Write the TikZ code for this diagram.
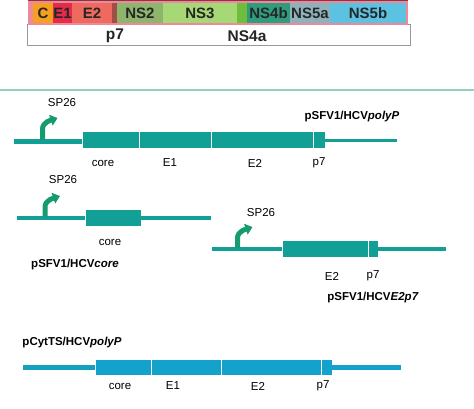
\documentclass[tikz,border=0pt]{standalone}
\usepackage{fontspec}
\setmainfont{Liberation Sans}
\usepackage{tikz}
\usetikzlibrary{positioning}
\usetikzlibrary{arrows.meta}

\definecolor{dnateal}{HTML}{12A096}
\definecolor{dnablue}{HTML}{13A2CC}
\definecolor{promgreen}{HTML}{169A70}
\definecolor{rulegreen}{HTML}{92D0C2}
\definecolor{barpink}{HTML}{EC8A9C}
\definecolor{barmaroon}{HTML}{8A3444}
\definecolor{segC}{HTML}{F5A01E}
\definecolor{segEone}{HTML}{E52B4A}
\definecolor{segEtwo}{HTML}{EF6A5E}
\definecolor{segPseven}{HTML}{A24E48}
\definecolor{segNStwo}{HTML}{8EB56C}
\definecolor{segNSthree}{HTML}{A6D876}
\definecolor{segNSfoura}{HTML}{6DBE3C}
\definecolor{segNSfourb}{HTML}{2F9C7C}
\definecolor{segNSfivea}{HTML}{8DB2BC}
\definecolor{segNSfiveb}{HTML}{5CC2E2}

\begin{document}
\begin{tikzpicture}[x=1pt,y=-1pt]
% Style definitions
\tikzset{
    seg/.style={minimum height=20pt, inner sep=0pt, outer sep=0pt, anchor=west,
                font=\fontsize{15}{17}\selectfont\bfseries, text=black!85},
    rowtext/.style={font=\fontsize{15.5}{17}\selectfont\bfseries, text=black!85},
    gene/.style={minimum height=17pt, inner sep=0pt, outer sep=0pt, anchor=west,
                 draw=white, line width=0.8pt},
    tag/.style={font=\fontsize{11.5}{13}\selectfont, inner sep=1pt},
    plasmid/.style={font=\fontsize{11.5}{13}\selectfont\bfseries, inner sep=1pt},
    promoter/.style={draw=promgreen, line width=5pt,
                     -{Triangle[width=11pt,length=7pt]}},
    rule/.style={draw=rulegreen, line width=1.5pt}
}
\useasboundingbox (0,0) rectangle (474,408);

% Polyprotein bar
\node[draw=black!40, fill=white, line width=1pt, minimum width=383pt,
      minimum height=21pt, inner sep=0pt, anchor=north west] (cut) at (27,24) {};
\node[fill=barpink, minimum width=380pt, minimum height=25pt, inner sep=0pt,
      outer sep=0pt, anchor=north west] (frame) at (28,0) {};
\draw[barmaroon, line width=1.2pt] (frame.north west) -- (frame.north east);

\node[seg, fill=segC, minimum width=20pt] (c) at (33,13) {C};
\node[seg, fill=segEone, minimum width=19pt] (e1) at (53,13) {E1};
\node[seg, fill=segEtwo, minimum width=40pt] (e2) at (72,13) {E2};
\node[seg, fill=segPseven, minimum width=5pt] (p7) at (112,13) {};
\node[seg, fill=segNStwo, minimum width=46pt] (ns2) at (117,13) {NS2};
\node[seg, fill=segNSthree, minimum width=74pt] (ns3) at (163,13) {NS3};
\node[seg, fill=segNSfoura, minimum width=10pt] (ns4a) at (237,13) {};
\node[seg, fill=segNSfourb, minimum width=43pt] (ns4b) at (247,13) {NS4b};
\node[seg, fill=segNSfivea, minimum width=40pt] (ns5a) at (290,13) {NS5a};
\node[seg, fill=segNSfiveb, minimum width=76pt] (ns5b) at (330,13) {NS5b};

\node[rowtext] (p7name) at (115,36) {p7};
\node[rowtext] (ns4aname) at (247,36) {NS4a};

% Separator
\coordinate (ruleL) at (0,90);
\coordinate (ruleR) at (474,90);
\draw[rule] (ruleL) -- (ruleR);

% pSFV1/HCVpolyP
\node[gene, fill=dnateal, minimum width=57pt] (core1) at (82,139.5) {};
\node[gene, fill=dnateal, minimum width=72pt] (eone1) at (139,139.5) {};
\node[gene, fill=dnateal, minimum width=102pt] (etwo1) at (211,139.5) {};
\node[gene, fill=dnateal, minimum width=12pt] (pseven1) at (313,139.5) {};
\coordinate (start1) at (14,141.5);
\coordinate (end1) at (397,140.5);
\draw[dnateal, line width=5pt] (start1) -- (start1 -| core1.west);
\draw[dnateal, line width=3.5pt] (pseven1.east |- end1) -- (end1);
\coordinate (prom1) at (42.5,140);
\draw[promoter] (prom1) -- ++(0,-11) .. controls +(0,-7) and +(-6,2) .. ++(15,-11);
\node[tag] (sp1) at (62,103) {SP26};
\node[tag] (corelbl1) at (103,163) {core};
\node[tag] (eonelbl1) at (170,163) {E1};
\node[tag] (etwolbl1) at (255,163) {E2};
\node[tag] (psevenlbl1) at (319,163) {p7};
\node[plasmid] (name1) at (352,117) {pSFV1/HCV\textit{polyP}};

% pSFV1/HCVcore
\node[gene, fill=dnateal, minimum width=56pt] (core2) at (85,218) {};
\coordinate (start2) at (17,218);
\coordinate (end2) at (211,218);
\draw[dnateal, line width=3.5pt] (start2) -- (core2.west);
\draw[dnateal, line width=3.5pt] (core2.east) -- (end2);
\coordinate (prom2) at (45,217);
\draw[promoter] (prom2) -- ++(0,-10) .. controls +(0,-7) and +(-6,2) .. ++(15,-11);
\node[tag] (sp2) at (63,180) {SP26};
\node[tag] (corelbl2) at (110,242) {core};
\node[plasmid] (name2) at (75,265) {pSFV1/HCV\textit{core}};

% pSFV1/HCVE2p7
\node[gene, fill=dnateal, minimum width=86pt] (etwo3) at (282,249) {};
\node[gene, fill=dnateal, minimum width=10pt] (pseven3) at (368,249) {};
\coordinate (start3) at (212,249);
\coordinate (end3) at (446,249);
\draw[dnateal, line width=3.5pt] (start3) -- (etwo3.west);
\draw[dnateal, line width=3.5pt] (pseven3.east) -- (end3);
\coordinate (prom3) at (237.5,248);
\draw[promoter] (prom3) -- ++(0,-10) .. controls +(0,-7) and +(-6,2) .. ++(15,-11);
\node[tag] (sp3) at (261,213) {SP26};
\node[tag] (etwolbl3) at (332,276) {E2};
\node[tag] (psevenlbl3) at (373,276) {p7};
\node[plasmid] (name3) at (373,298) {pSFV1/HCV\textit{E2p7}};

% pCytTS/HCVpolyP
\node[gene, fill=dnablue, minimum width=56pt, minimum height=16pt] (core4) at (95,367) {};
\node[gene, fill=dnablue, minimum width=70pt, minimum height=16pt] (eone4) at (151,367) {};
\node[gene, fill=dnablue, minimum width=100pt, minimum height=16pt] (etwo4) at (221,367) {};
\node[gene, fill=dnablue, minimum width=11pt, minimum height=16pt] (pseven4) at (321,367) {};
\coordinate (start4) at (23,367);
\coordinate (end4) at (401,367);
\draw[dnablue!70!dnateal, line width=5pt] (start4) -- (core4.west);
\draw[dnablue, line width=5pt] (pseven4.east) -- (end4);
\node[tag] (corelbl4) at (120,386) {core};
\node[tag] (eonelbl4) at (173,386) {E1};
\node[tag] (etwolbl4) at (258,386) {E2};
\node[tag] (psevenlbl4) at (323,386) {p7};
\node[plasmid] (name4) at (72,343) {pCytTS/HCV\textit{polyP}};

\end{tikzpicture}
\end{document}
